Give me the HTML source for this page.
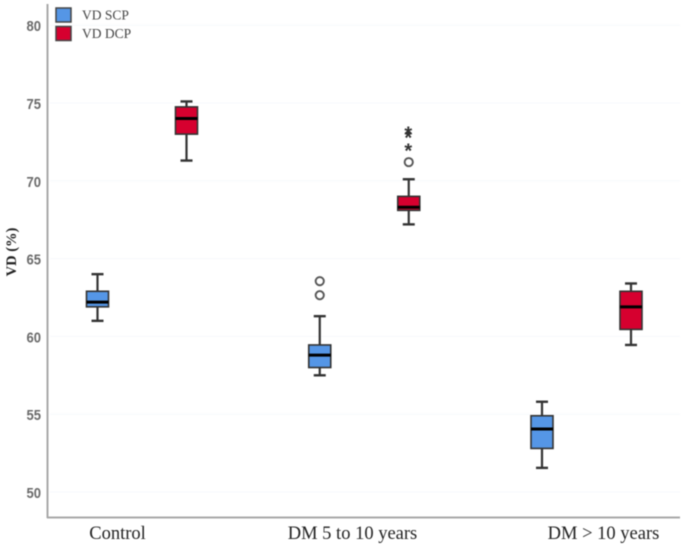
<!DOCTYPE html>
<html>
<head>
<meta charset="utf-8">
<style>
html,body{margin:0;padding:0;background:#fff;width:685px;height:547px;overflow:hidden}
svg{display:block;filter:blur(0.5px)}
</style>
</head>
<body>
<svg id="chart" width="685" height="547" viewBox="0 0 685 547" xmlns="http://www.w3.org/2000/svg"></svg>
<script>
const categories = ['Control', 'DM 5 to 10 years', 'DM > 10 years'];
const seriesNames = ['VD SCP', 'VD DCP'];
const yTicks = [50, 55, 60, 65, 70, 75, 80];
// each series: one entry per category
const lowWhisker = [[61.0, 57.5, 51.55], [71.3, 67.2, 59.45]];
const q1 = [[61.9, 58.0, 52.8], [73.0, 68.1, 60.45]];
const median = [[62.2, 58.8, 54.05], [74.0, 68.3, 61.9]];
const q3 = [[62.9, 59.45, 54.9], [74.75, 69.0, 62.9]];
const highWhisker = [[64.0, 61.3, 55.8], [75.1, 70.1, 63.4]];
const circleOutliers = [[[], [62.65, 63.55], []], [[], [71.2], []]];
const starOutliers = [[[], [], []], [[], [72.1, 72.95, 73.2], []]];
const seriesColors = ['#5596e6', '#d6002f'];

const NS = 'http://www.w3.org/2000/svg';
const svg = document.getElementById('chart');
function yScale(v) { return 492 - (v - 50) * 15.56; }
function xScale(cat, ser) { return 142 + cat * 222.25 + (ser === 0 ? -44.5 : 44.5); }
function add(tag, attrs, parent, text) {
  const el = document.createElementNS(NS, tag);
  for (const k in attrs) el.setAttribute(k, attrs[k]);
  if (text !== undefined) el.textContent = text;
  (parent || svg).appendChild(el);
  return el;
}
const serif = '"Liberation Serif", serif';
const sans = '"Liberation Sans", sans-serif';

yTicks.forEach(function (t) {
  const y = yScale(t);
  const g = add('line', { x1: 50, x2: 680, y1: y, y2: y, stroke: '#f7f8fc', 'stroke-width': 1 });
  
  
  const l = add('text', { x: 26.5, y: y + 6, 'font-family': sans, 'font-size': 15, 'font-weight': 'bold', fill: '#6a6a6a', textLength: 14.5, lengthAdjust: 'spacingAndGlyphs' }, svg, String(t));
  
  
});

const yAxis = add('line', { x1: 47.5, x2: 47.5, y1: 4, y2: 518, stroke: '#a8a8a8', 'stroke-width': 2 });


const xAxis = add('line', { x1: 47, x2: 680, y1: 517.5, y2: 517.5, stroke: '#a8a8a8', 'stroke-width': 2 });



const yTitle = add('text', { transform: 'translate(16,252) rotate(-90)', 'text-anchor': 'middle', 'font-family': serif, 'font-size': 14.5, 'font-weight': 'bold', fill: '#222' }, svg, 'VD (%)');



const labelCenters = [117.5, 352.5, 603.5];
categories.forEach(function (c, i) {
  const t = add('text', { x: labelCenters[i], y: 539, 'text-anchor': 'middle', 'font-family': serif, 'font-size': 18.5, fill: '#222' }, svg, c);
  
  
});

seriesNames.forEach(function (name, s) {
  categories.forEach(function (c, i) {
    const x = xScale(i, s);
    const g = add('g', {});
    
    
    const stroke = '#333';
    add('line', { x1: x, x2: x, y1: yScale(highWhisker[s][i]), y2: yScale(lowWhisker[s][i]), stroke: stroke, 'stroke-width': 2.2 }, g);
    [highWhisker[s][i], lowWhisker[s][i]].forEach(function (w) {
      add('line', { x1: x - 6, x2: x + 6, y1: yScale(w), y2: yScale(w), stroke: stroke, 'stroke-width': 2.4 }, g);
    });
    const top = yScale(q3[s][i]);
    const bot = yScale(q1[s][i]);
    add('rect', { x: x - 11, y: top, width: 22, height: bot - top, fill: seriesColors[s], stroke: '#333', 'stroke-width': 1.6 }, g);
    add('line', { x1: x - 11, x2: x + 11, y1: yScale(median[s][i]), y2: yScale(median[s][i]), stroke: '#000', 'stroke-width': 3 }, g);
    circleOutliers[s][i].forEach(function (v) {
      add('circle', { cx: x, cy: yScale(v), r: 4.1, fill: '#fff', stroke: '#555', 'stroke-width': 1.9 }, g);
    });
    starOutliers[s][i].forEach(function (v) {
      add('text', { x: x - 0.5, y: yScale(v) + 9.5, 'text-anchor': 'middle', 'font-family': sans, 'font-size': 20, 'font-weight': 'bold', fill: '#333' }, g, '*');
    });
  });
});

seriesNames.forEach(function (name, s) {
  const y = 8 + s * 18.5;
  const sw = add('rect', { x: 56, y: y, width: 15, height: 14, fill: seriesColors[s], stroke: '#444', 'stroke-width': 1.5 });
  
  
  const t = add('text', { x: 82, y: y + 11.5, 'font-family': serif, 'font-size': 13.5, fill: '#444' }, svg, name);
  
  
});
</script>
</body>
</html>
